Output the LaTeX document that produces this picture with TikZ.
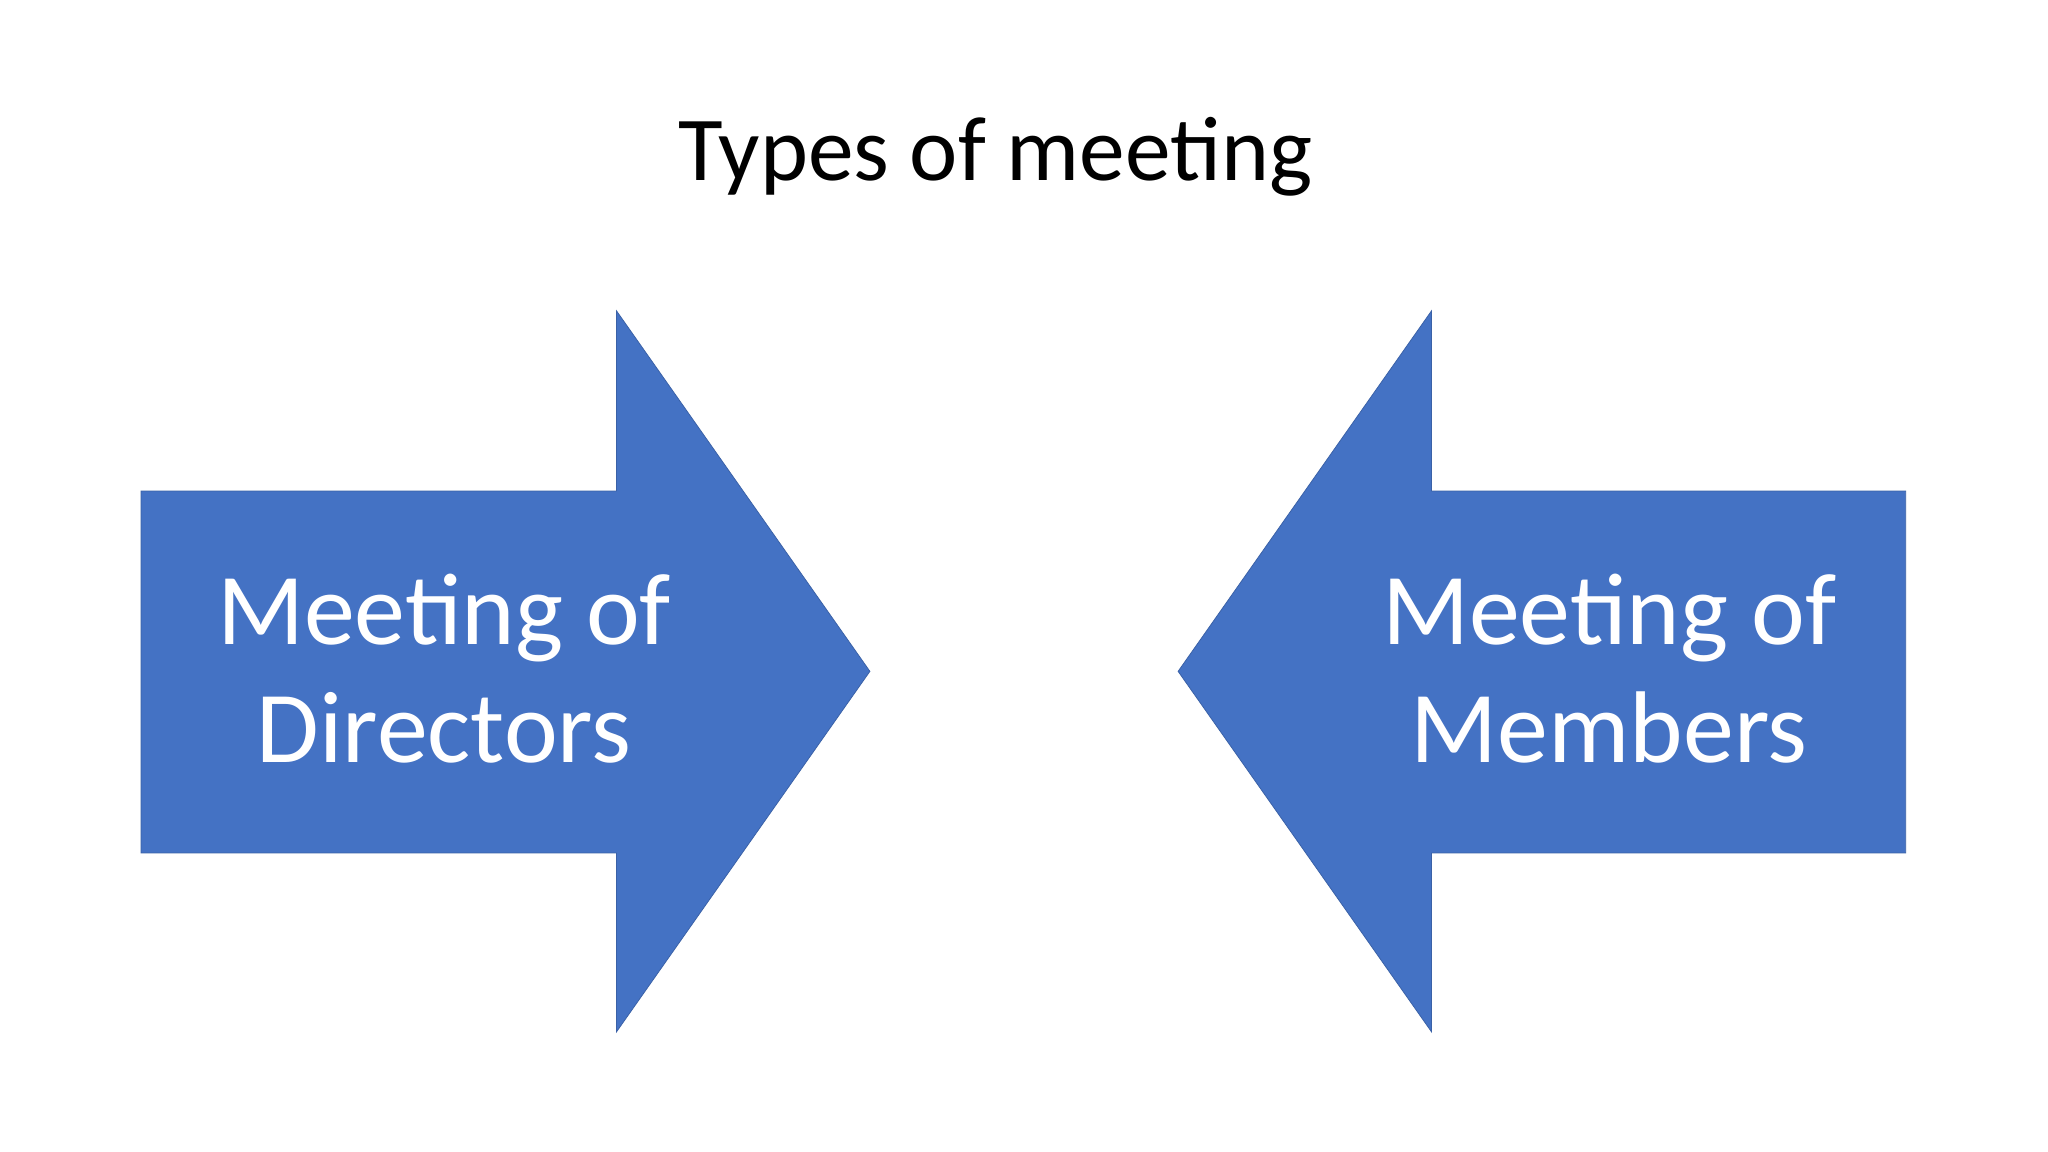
\documentclass[tikz,border=0pt]{standalone}
\usepackage{fontspec}
\setmainfont{Carlito}
\definecolor{arrowblue}{HTML}{4472C4}
\begin{document}
\begin{tikzpicture}[x=1pt,y=-1pt,
  arrowshape/.style={fill=arrowblue,draw=arrowblue!85!black,line width=0.6pt},
  arrowtext/.style={text=white,font=\fontsize{78}{90}\selectfont,align=center},
  titletext/.style={font=\fontsize{70}{84}\selectfont}]
\useasboundingbox[fill=white] (0,0) rectangle (1568,882);
\node[titletext] (title) at (762,120) {Types of meeting};
\draw[arrowshape] (108,376) -- (472,376) -- (472,238) -- (666,514) -- (472,790) -- (472,653) -- (108,653) -- cycle;
\draw[arrowshape] (1459,376) -- (1096,376) -- (1096,238) -- (902,514) -- (1096,790) -- (1096,653) -- (1459,653) -- cycle;
\node[arrowtext] (dir) at (340,512) {Meeting of\\Directors};
\node[arrowtext] (mem) at (1232,512) {Meeting of\\Members};
\end{tikzpicture}
\end{document}
